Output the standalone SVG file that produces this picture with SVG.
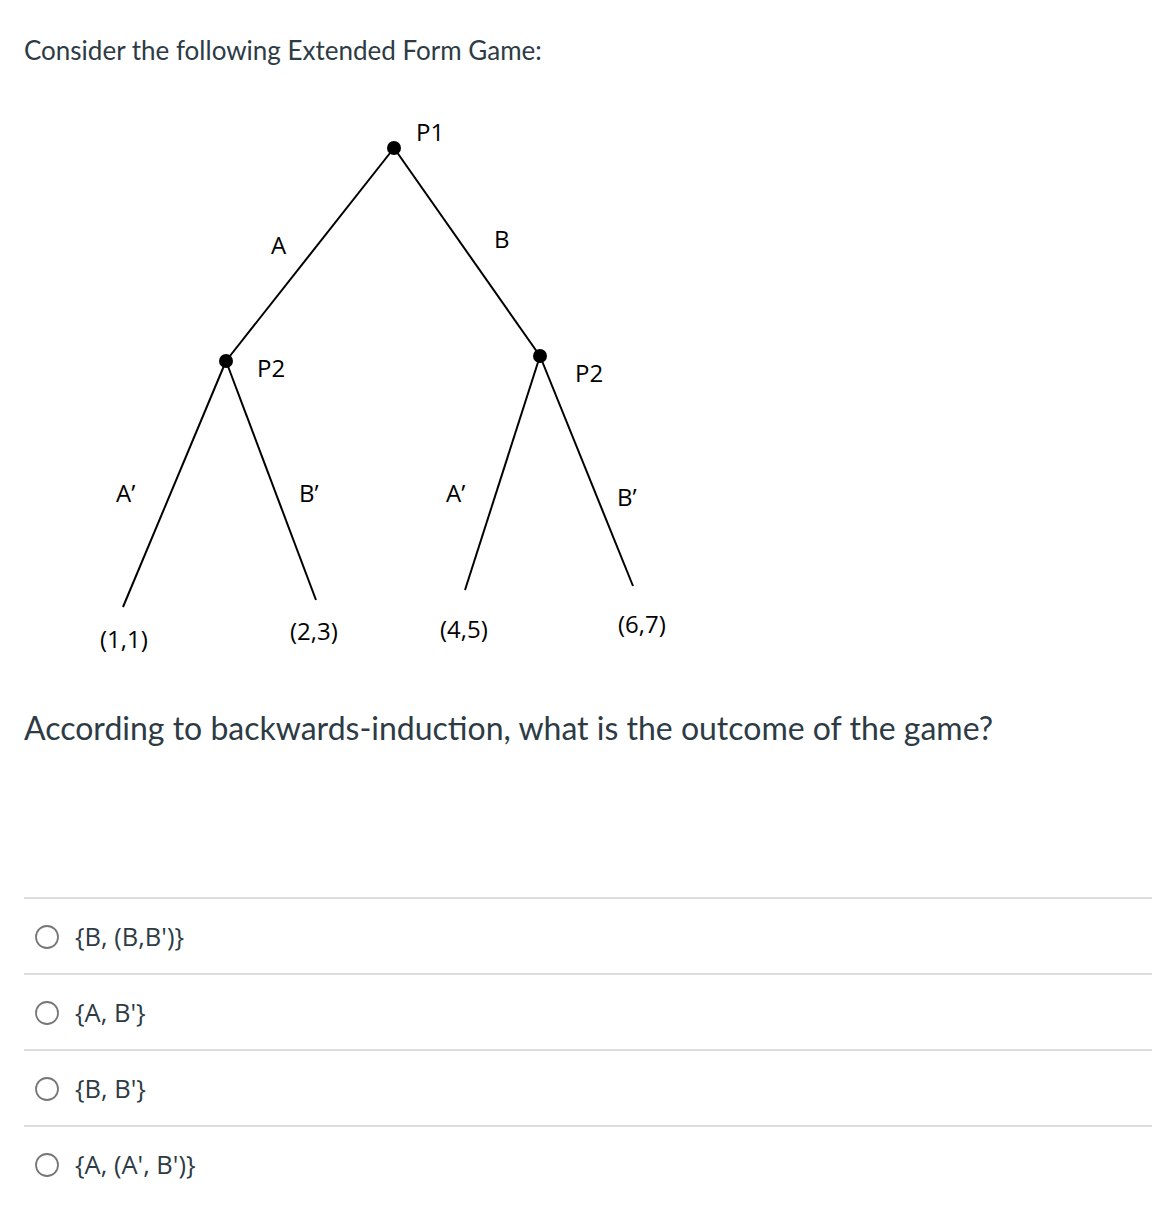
<svg xmlns="http://www.w3.org/2000/svg" width="1152" height="1214" viewBox="0 0 1152 1214">
<style>
.ui{font-family:Lato,"Open Sans",sans-serif;fill:#2d3b45}
.lbl{font-family:"Open Sans","Liberation Sans",sans-serif;font-size:24px;fill:#000}
.opt{font-family:"Open Sans","Noto Sans",sans-serif;font-size:25.5px;fill:#2d3b45}
.edge{stroke:#000;stroke-width:2;fill:none}
.sep{stroke:#dcdcdc;stroke-width:2}
.radio{fill:#fff;stroke:#777;stroke-width:1.8}
</style>
<rect width="1152" height="1214" fill="#fff"/>
<text class="ui" x="24" y="60" font-size="26">Consider the following Extended Form Game:</text>
<g id="connectors">
<line class="edge" x1="394" y1="148" x2="226" y2="361"/>
<line class="edge" x1="394" y1="148" x2="540" y2="356"/>
<line class="edge" x1="226" y1="361" x2="123" y2="607"/>
<line class="edge" x1="226" y1="361" x2="316" y2="600"/>
<line class="edge" x1="540" y1="356" x2="465" y2="590"/>
<line class="edge" x1="540" y1="356" x2="633" y2="586"/>
</g>
<g id="edge-labels">
<text class="lbl" x="271" y="254">A</text>
<text class="lbl" x="494" y="248">B</text>
<text class="lbl" x="116" y="502">A’</text>
<text class="lbl" x="299" y="502">B’</text>
<text class="lbl" x="446" y="502">A’</text>
<text class="lbl" x="617" y="506">B’</text>
</g>
<g id="node-p1"><circle cx="394" cy="148" r="7" fill="#000"/><text class="lbl" x="416" y="141">P1</text></g>
<g id="node-p2-left"><circle cx="226" cy="361" r="7" fill="#000"/><text class="lbl" x="257" y="377">P2</text></g>
<g id="node-p2-right"><circle cx="540" cy="356" r="7" fill="#000"/><text class="lbl" x="575" y="382">P2</text></g>
<g id="leaf-1"><text class="lbl" x="100" y="648">(1,1)</text></g>
<g id="leaf-2"><text class="lbl" x="290" y="640">(2,3)</text></g>
<g id="leaf-3"><text class="lbl" x="440" y="638">(4,5)</text></g>
<g id="leaf-4"><text class="lbl" x="618" y="633">(6,7)</text></g>
<text class="ui" x="24" y="740" font-size="32">According to backwards-induction, what is the outcome of the game?</text>
<line class="sep" x1="24" y1="898" x2="1152" y2="898"/>
<line class="sep" x1="24" y1="974" x2="1152" y2="974"/>
<line class="sep" x1="24" y1="1050" x2="1152" y2="1050"/>
<line class="sep" x1="24" y1="1126" x2="1152" y2="1126"/>
<circle class="radio" cx="47" cy="937" r="11"/>
<text class="opt" x="75" y="946">{B, (B,B')}</text>
<circle class="radio" cx="47" cy="1013" r="11"/>
<text class="opt" x="75" y="1022">{A, B'}</text>
<circle class="radio" cx="47" cy="1089" r="11"/>
<text class="opt" x="75" y="1098">{B, B'}</text>
<circle class="radio" cx="47" cy="1165" r="11"/>
<text class="opt" x="75" y="1174">{A, (A', B')}</text>
</svg>
